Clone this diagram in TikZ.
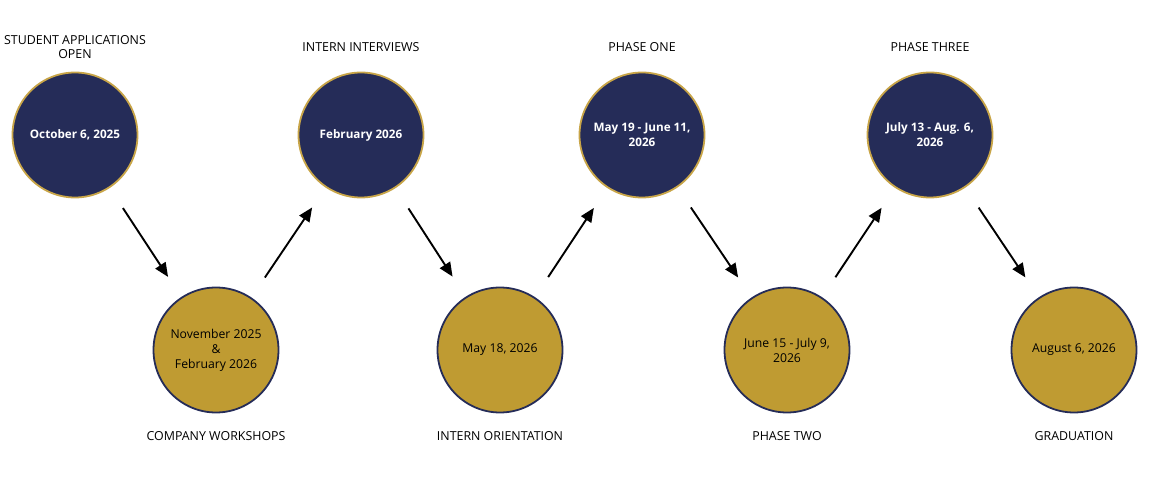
\documentclass[tikz,border=0pt]{standalone}
\usepackage{fontspec}
\setmainfont{Open Sans}
\usetikzlibrary{arrows.meta}
\definecolor{navy}{RGB}{37,44,88}
\definecolor{gold}{RGB}{191,155,50}
\definecolor{rim}{RGB}{200,165,72}

\begin{document}
\begin{tikzpicture}[x=1pt,y=1pt,font=\fontsize{11}{13}\selectfont,
  upc/.style={circle,draw=rim,line width=1.8pt,fill=navy,minimum size=125pt,inner sep=0,
              align=center,text=white,font=\fontsize{11.7}{15}\selectfont\bfseries},
  lowc/.style={circle,draw=navy,line width=1.8pt,fill=gold,minimum size=125pt,inner sep=0,
               align=center,text=black,font=\fontsize{12.2}{15}\selectfont},
  ttl/.style={align=center,font=\fontsize{12.4}{14}\selectfont},
  flow/.style={-{Triangle[length=14pt,width=12pt]},line width=1.9pt,
               shorten <=24pt,shorten >=24pt}]
  \useasboundingbox (0,0) rectangle (1150,500);

  % ---- top row : navy circles ----
  \foreach \d/\t/\x [count=\i] in
    {{October 6, 2025}/{STUDENT APPLICATIONS\\OPEN}/75,
     {February 2026}/{INTERN INTERVIEWS}/361,
     {May 19 - June 11,\\2026}/{PHASE ONE}/642,
     {July 13 - Aug. 6,\\2026}/{PHASE THREE}/930}{
    \node[upc] (t\i) at (\x,365) {\d};
    \node[ttl] (tl\i) at (\x,453) {\t};}

  % ---- bottom row : gold circles ----
  \foreach \d/\t/\x [count=\i] in
    {{November 2025\\\&\\February 2026}/{COMPANY WORKSHOPS}/216,
     {May 18, 2026}/{INTERN ORIENTATION}/500,
     {June 15 - July 9,\\2026}/{PHASE TWO}/787,
     {August 6, 2026}/{GRADUATION}/1074}{
    \node[lowc] (b\i) at (\x,150) {\d};
    \node[ttl] (bl\i) at (\x,64) {\t};}

  % ---- zig-zag arrows ----
  \foreach \a/\b in {t1/b1,b1/t2,t2/b2,b2/t3,t3/b3,b3/t4,t4/b4}
    \draw[flow] (\a)--(\b);

\end{tikzpicture}
\end{document}
